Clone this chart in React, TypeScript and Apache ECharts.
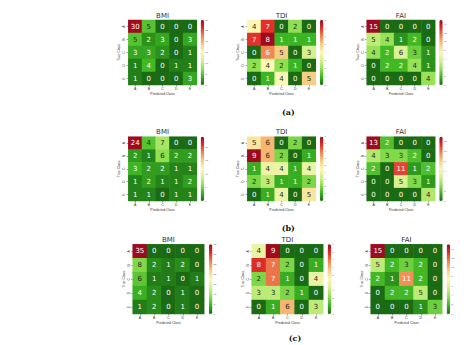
import React, { useEffect, useRef } from 'react';
import * as echarts from 'echarts';

// ---------- data ----------
const classes = ['A', 'B', 'C', 'D', 'E'];
const panelTitles = ['BMI', 'TDI', 'FAI'];
const rowLabels = ['a', 'b', 'c'];

const bmiA = [[30, 5, 0, 0, 0], [5, 2, 3, 0, 3], [3, 3, 2, 0, 1], [1, 4, 0, 1, 1], [1, 0, 0, 0, 3]];
const tdiA = [[4, 7, 0, 2, 0], [7, 8, 1, 1, 1], [0, 6, 5, 0, 3], [2, 4, 2, 1, 0], [0, 1, 4, 0, 5]];
const faiA = [[15, 0, 0, 0, 0], [5, 4, 1, 2, 0], [4, 2, 6, 3, 1], [0, 2, 2, 4, 1], [0, 0, 0, 0, 4]];

const bmiB = [[24, 4, 7, 0, 0], [2, 1, 6, 2, 2], [3, 2, 2, 1, 1], [1, 2, 1, 1, 2], [1, 1, 0, 1, 1]];
const tdiB = [[5, 6, 0, 2, 0], [9, 6, 2, 0, 1], [1, 4, 4, 1, 4], [2, 3, 1, 1, 2], [0, 1, 4, 0, 5]];
const faiB = [[13, 2, 0, 0, 0], [4, 3, 3, 2, 0], [2, 0, 11, 1, 2], [0, 0, 5, 3, 1], [0, 0, 0, 0, 4]];

const bmiC = [[35, 0, 0, 0, 0], [8, 2, 1, 2, 0], [6, 1, 1, 0, 1], [4, 2, 0, 1, 0], [1, 2, 0, 1, 0]];
const tdiC = [[4, 9, 0, 0, 0], [8, 7, 2, 0, 1], [2, 7, 1, 0, 4], [3, 3, 2, 1, 0], [0, 1, 6, 0, 3]];
const faiC = [[15, 0, 0, 0, 0], [5, 2, 3, 2, 0], [2, 1, 11, 2, 0], [0, 2, 2, 5, 0], [0, 0, 0, 1, 3]];

const matrices = [bmiA, tdiA, faiA, bmiB, tdiB, faiB, bmiC, tdiC, faiC];
const colorbarIntervals = [5, 1, 2, 5, 1, 2, 5, 1, 2];

// ---------- style / layout ----------
const cmap = ['#1a6b14', '#3cb522', '#8fe050', '#d6f08c', '#fbf8b4', '#f7cd82', '#f08850', '#e2302a', '#9e0a1e'];

const rowLayouts = [
  { top: 20, height: 65, lefts: [128.3, 247.3, 366.7], width: 68.5, cbLefts: [200.7, 320, 439.3], titleY: 15.7, labelX: 288.3, labelY: 111.7 },
  { top: 136.7, height: 64.3, lefts: [128.3, 247.3, 366.7], width: 68.5, cbLefts: [200.7, 320, 439.3], titleY: 132.3, labelX: 288.3, labelY: 228.3 },
  { top: 244.3, height: 69.7, lefts: [132.7, 251.7, 370.7], width: 71.5, cbLefts: [209, 327.7, 446.7], titleY: 240, labelX: 295, labelY: 338.3 },
];

function hexToRgb(h: string) {
  const n = parseInt(h.slice(1), 16);
  return [(n >> 16) & 255, (n >> 8) & 255, n & 255];
}
function colorAt(t: number) {
  const s = Math.max(0, Math.min(1, t)) * (cmap.length - 1);
  const i = Math.min(Math.floor(s), cmap.length - 2);
  const f = s - i;
  const a = hexToRgb(cmap[i]);
  const b = hexToRgb(cmap[i + 1]);
  return a.map((v, k) => v + (b[k] - v) * f);
}
function textColorFor(t: number) {
  const rgb = colorAt(t).map((v) => {
    const c = v / 255;
    return c <= 0.03928 ? c / 12.92 : Math.pow((c + 0.055) / 1.055, 2.4);
  });
  const lum = 0.2126 * rgb[0] + 0.7152 * rgb[1] + 0.0722 * rgb[2];
  return lum > 0.408 ? '#262626' : '#ffffff';
}

function buildOption() {
  const grid: any[] = [];
  const xAxis: any[] = [];
  const yAxis: any[] = [];
  const series: any[] = [];
  const visualMap: any[] = [];
  const graphic: any[] = [];

  matrices.forEach((m, i) => {
    const r = Math.floor(i / 3);
    const c = i % 3;
    const L = rowLayouts[r];
    const vmax = Math.max(...m.flat());
    grid.push({ left: L.lefts[c], top: L.top, width: L.width, height: L.height, containLabel: false });
    xAxis.push({
      type: 'category', gridIndex: i, data: classes, position: 'bottom',
      axisLine: { show: false }, axisTick: { show: true, length: 1.5, alignWithLabel: true, lineStyle: { color: '#333', width: 0.5 } },
      axisLabel: { fontSize: 3.5, margin: 2, color: '#333' },
      name: 'Predicted Class', nameLocation: 'middle', nameGap: 6.5,
      nameTextStyle: { fontSize: 3.5, color: '#333' }, splitLine: { show: false },
    });
    yAxis.push({
      type: 'category', gridIndex: i, data: classes, inverse: true,
      axisLine: { show: false }, axisTick: { show: true, length: 1.5, alignWithLabel: true, lineStyle: { color: '#333', width: 0.5 } },
      axisLabel: { fontSize: 3.5, margin: 2, rotate: 90, color: '#333' },
      name: 'True Class', nameLocation: 'middle', nameGap: 6.5,
      nameTextStyle: { fontSize: 3.5, color: '#333' }, splitLine: { show: false },
    });
    const data: any[] = [];
    m.forEach((row, ri) => row.forEach((v, ci) => {
      data.push({ value: [ci, ri, v], label: { color: textColorFor(v / vmax) } });
    }));
    series.push({
      type: 'heatmap', xAxisIndex: i, yAxisIndex: i, data,
      label: { show: true, fontSize: 7, fontFamily: 'DejaVu Sans' },
      itemStyle: { borderWidth: 0 },
      emphasis: { disabled: true },
    });
    visualMap.push({
      type: 'continuous', seriesIndex: i, dimension: 2, min: 0, max: vmax,
      inRange: { color: cmap }, calculable: false, show: true, padding: 0,
      left: L.cbLefts[c], top: L.top, itemWidth: 3.4, itemHeight: L.height,
      orient: 'vertical', textStyle: { fontSize: 3 },
    });
    graphic.push({
      type: 'text', x: L.lefts[c] + L.width / 2, y: L.titleY,
      style: { text: panelTitles[c], fontSize: 7, fill: '#333', textAlign: 'center', textVerticalAlign: 'middle', fontFamily: 'DejaVu Sans' },
    });
  });

  // colorbar tick axes
  matrices.forEach((m, i) => {
    const r = Math.floor(i / 3);
    const c = i % 3;
    const L = rowLayouts[r];
    const vmax = Math.max(...m.flat());
    const gi = 9 + i;
    grid.push({ left: L.cbLefts[c], top: L.top, width: 3.4, height: L.height, containLabel: false });
    xAxis.push({ type: 'value', gridIndex: gi, show: false, min: 0, max: 1 });
    yAxis.push({
      type: 'value', gridIndex: gi, min: 0, max: vmax, interval: colorbarIntervals[i], position: 'right',
      axisLine: { show: false }, splitLine: { show: false },
      axisTick: { show: true, length: 1.2, lineStyle: { color: '#555', width: 0.4 } },
      axisLabel: { fontSize: 2.5, margin: 1.2, color: '#555', showMaxLabel: vmax % colorbarIntervals[i] === 0 },
    });
  });

  rowLayouts.forEach((L, r) => {
    graphic.push({
      type: 'text', x: L.labelX, y: L.labelY,
      style: { text: '(' + rowLabels[r] + ')', fontSize: 8, fontWeight: 'bold', fill: '#111', textAlign: 'center', textVerticalAlign: 'middle', fontFamily: 'DejaVu Serif' },
    });
  });

  return { animation: false, backgroundColor: '#ffffff', grid, xAxis, yAxis, series, visualMap, graphic };
}

export default function App() {
  const ref = useRef<HTMLDivElement>(null);
  useEffect(() => {
    if (!ref.current) return;
    const chart = echarts.init(ref.current, undefined, { renderer: 'svg' });
    chart.setOption(buildOption() as any);
    return () => chart.dispose();
  }, []);
  return <div ref={ref} style={{ position: 'fixed', left: 0, top: 0, width: 474, height: 345, background: '#fff' }} />;
}
